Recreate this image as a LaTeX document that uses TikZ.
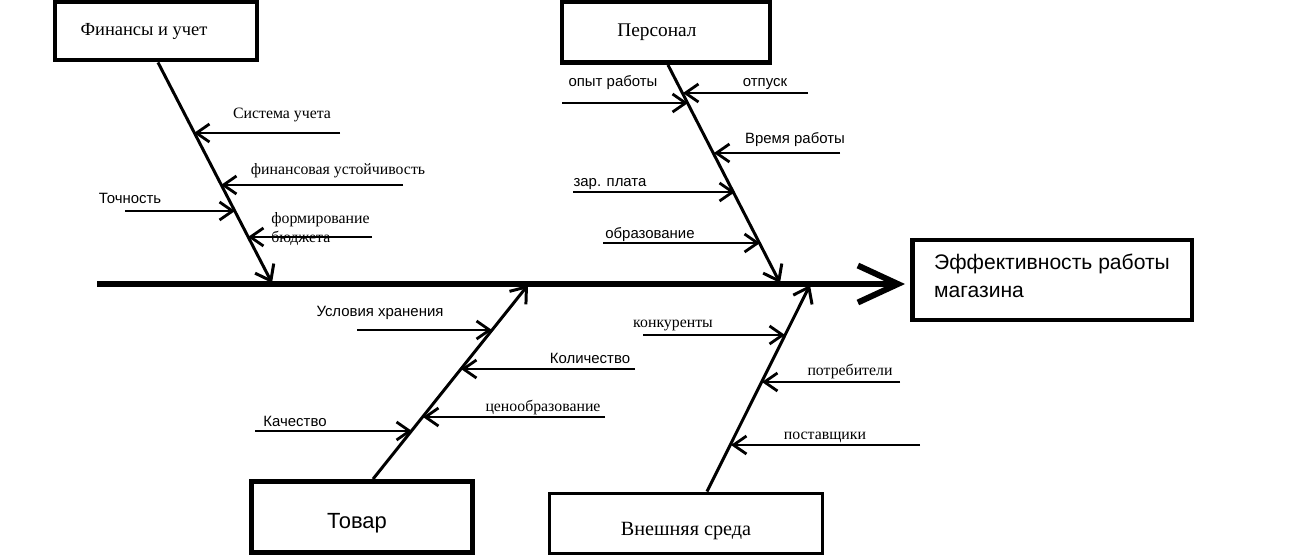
\documentclass[tikz,border=0pt]{standalone}
\usepackage{fontspec}
\setmainfont{Liberation Serif}
\setsansfont{Liberation Sans}
\usetikzlibrary{arrows.meta,calc}

\tikzset{
  box/.style={draw, line width=2.8pt, inner sep=0pt},
  bone/.style={line width=1.7pt, -{Straight Barb[length=0.28cm,width=0.42cm]}},
  cause/.style={line width=1.6pt, -{Straight Barb[length=0.26cm,width=0.36cm]}},
  sans/.style={font=\fontsize{8.5}{10}\sffamily, inner sep=0pt},
  serif/.style={font=\fontsize{9}{10}\selectfont, inner sep=0pt},
}

\begin{document}
\begin{tikzpicture}[x=0.02cm, y=-0.02cm]
  \useasboundingbox (0,0) rectangle (1291,556);

  % boxes
  \node[box, minimum width=4.04cm, minimum height=1.16cm, font=\fontsize{10.5}{12}\selectfont] (fin) at (156,31) {Финансы и учет\hspace*{0.48cm}};
  \node[box, minimum width=4.16cm, minimum height=1.22cm, font=\fontsize{11}{12}\selectfont] (pers) at (666,32) {Персонал\hspace*{0.36cm}};
  \node[box, minimum width=4.42cm, minimum height=1.42cm, font=\fontsize{12.5}{14}\sffamily] (tov) at (362,517) {\smash{\raisebox{-0.22cm}{Товар}}\hspace*{0.2cm}};
  \node[box, line width=1.7pt, minimum width=5.46cm, minimum height=1.2cm, font=\fontsize{11.5}{12}\selectfont] (sreda) at (686,523) {\smash{\raisebox{-0.24cm}{Внешняя среда}}};
  \node[box, minimum width=5.6cm, minimum height=1.6cm, align=left, text depth=0.16cm, font=\fontsize{12}{16}\sffamily] (eff) at (1052,280) {Эффективность работы\\магазина};

  % spine
  \coordinate (tail) at (97,284);
  \coordinate (head) at (905,284);
  \draw[line width=3pt, -{Straight Barb[length=0.8cm,width=0.74cm,line width=3.4pt]}] (tail) -- (head);

  % bones
  \coordinate (finEnd) at (272,283);
  \coordinate (persEnd) at (780,283);
  \coordinate (tovEnd) at (528,285);
  \coordinate (sredaEnd) at (810,285);
  \draw[bone] ([xshift=0.04cm]fin.south) -- (finEnd);
  \draw[bone] ([xshift=0.04cm]pers.south) -- (persEnd);
  \draw[bone] ([xshift=0.22cm]tov.north) -- (tovEnd);
  \draw[bone] ([xshift=0.42cm]sreda.north) -- (sredaEnd);

  % Финансы и учет
  \coordinate (sysA) at (340,133);  \coordinate (sysB) at (194,133);
  \coordinate (fustA) at (403,185); \coordinate (fustB) at (221,185);
  \coordinate (tochA) at (125,211); \coordinate (tochB) at (235,211);
  \coordinate (budA) at (372,237);  \coordinate (budB) at (248,237);
  \draw[cause] (sysA) -- (sysB);
  \draw[cause] (fustA) -- (fustB);
  \draw[cause] (tochA) -- (tochB);
  \draw[cause] (budA) -- (budB);
  \node[serif] (sys) at (282,115) {Система учета};
  \node[serif] (fust) at (338,171) {финансовая устойчивость};
  \node[sans] (toch) at (130,198) {Точность};
  \node[serif, align=left, anchor=west, font=\fontsize{9}{10.5}\selectfont] (bud) at (271,229) {формирование\\бюджета};

  % Персонал
  \coordinate (opytA) at (562,103); \coordinate (opytB) at (688,103);
  \coordinate (otpA) at (808,93);   \coordinate (otpB) at (683,93);
  \coordinate (vremA) at (840,153); \coordinate (vremB) at (714,153);
  \coordinate (zarA) at (573,192);  \coordinate (zarB) at (735,192);
  \coordinate (obrA) at (603,243);  \coordinate (obrB) at (760,243);
  \draw[cause] (opytA) -- (opytB);
  \draw[cause] (otpA) -- (otpB);
  \draw[cause] (vremA) -- (vremB);
  \draw[cause] (zarA) -- (zarB);
  \draw[cause] (obrA) -- (obrB);
  \node[sans] (opyt) at (613,83) {опыт работы};
  \node[sans] (otp) at (765,84) {отпуск};
  \node[sans] (vrem) at (795,140) {Время работы};
  \node[sans] (zar) at (610,184) {зар. плата};
  \node[sans] (obr) at (650,235) {образование};

  % Товар
  \coordinate (uslA) at (357,330);  \coordinate (uslB) at (492,330);
  \coordinate (kolA) at (635,369);  \coordinate (kolB) at (461,369);
  \coordinate (cenA) at (605,417);  \coordinate (cenB) at (423,417);
  \coordinate (kachA) at (255,431); \coordinate (kachB) at (412,431);
  \draw[cause] (uslA) -- (uslB);
  \draw[cause] (kolA) -- (kolB);
  \draw[cause] (cenA) -- (cenB);
  \draw[cause] (kachA) -- (kachB);
  \node[sans] (usl) at (380,313) {Условия хранения};
  \node[sans] (kol) at (590,358) {Количество};
  \node[serif] (cen) at (543,408) {ценообразование};
  \node[sans] (kach) at (295,421) {Качество};

  % Внешняя среда
  \coordinate (konkA) at (643,335); \coordinate (konkB) at (785,335);
  \coordinate (potrA) at (900,382); \coordinate (potrB) at (762,382);
  \coordinate (postA) at (920,445); \coordinate (postB) at (731,445);
  \draw[cause] (konkA) -- (konkB);
  \draw[cause] (potrA) -- (potrB);
  \draw[cause] (postA) -- (postB);
  \node[serif] (konk) at (673,325) {конкуренты};
  \node[serif] (potr) at (850,372) {потребители};
  \node[serif] (post) at (825,437) {поставщики};
\end{tikzpicture}
\end{document}
